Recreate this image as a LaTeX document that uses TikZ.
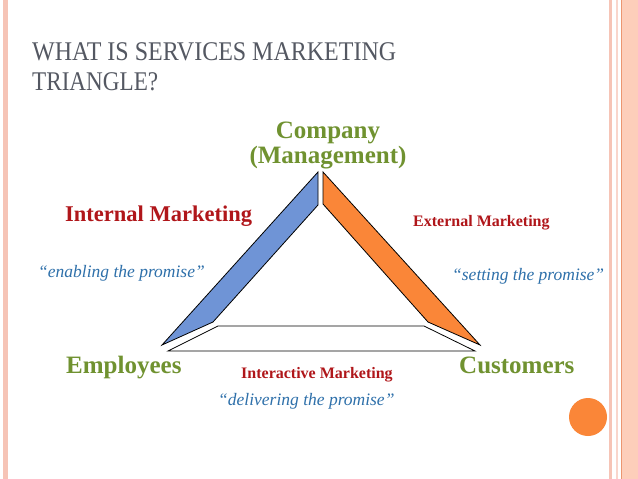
\documentclass[tikz,border=0pt]{standalone}
\usepackage{fontspec}
\setmainfont{Liberation Serif}
\definecolor{olivegreen}{RGB}{112,146,48}
\definecolor{darkred}{RGB}{176,22,26}
\definecolor{promblue}{RGB}{46,112,170}
\definecolor{bandblue}{RGB}{111,148,214}
\definecolor{bandorange}{RGB}{250,134,56}
\definecolor{titlegray}{RGB}{84,88,98}
\definecolor{stripepink}{RGB}{246,196,182}
\definecolor{stripepeach}{RGB}{253,206,186}
\definecolor{stripeline}{RGB}{236,150,112}
\begin{document}
\begin{tikzpicture}[x=1pt,y=-1pt,
  party/.style={text=olivegreen,font=\fontsize{25}{26}\selectfont\bfseries,inner sep=0pt},
  bigmkt/.style={text=darkred,font=\fontsize{22.5}{24}\selectfont\bfseries,inner sep=0pt},
  smallmkt/.style={text=darkred,font=\fontsize{16}{18}\selectfont\bfseries,inner sep=0pt},
  promise/.style={text=promblue,font=\fontsize{17.5}{19}\selectfont\itshape,inner sep=0pt},
  band/.style={draw=black,line width=0.8pt,line join=miter}]
\useasboundingbox (0,0) rectangle (638,479);
\fill[white] (0,0) rectangle (638,479);
% border stripes
\fill[stripepink] (3,0) rectangle (7.5,479);
\fill[stripepink] (608.5,0) rectangle (612,479);
\fill[stripepink!70] (616,0) rectangle (617.5,479);
\fill[stripepeach] (621,0) rectangle (638,479);
\draw[stripeline,line width=0.8pt] (621.5,0) -- (621.5,479);
% title
\node[anchor=base west,inner sep=0pt,text=titlegray,font=\fontsize{27}{30}\selectfont] (t1) at (32,60) {\resizebox{364pt}{\height}{WHAT IS SERVICES MARKETING}};
\node[anchor=base west,inner sep=0pt,text=titlegray,font=\fontsize{27}{30}\selectfont] (t2) at (32,90) {\resizebox{126pt}{\height}{TRIANGLE?}};
% bands
\fill[band,fill=bandblue] (318,172) -- (318,205) -- (213,322) -- (162,345) -- cycle;
\fill[band,fill=bandorange] (323,172) -- (480,345) -- (428,322) -- (323,204) -- cycle;
\fill[band,fill=white] (218,326) -- (424,326) -- (475,351) -- (168,351) -- cycle;
% labels
\node[party,anchor=base] (comp) at (328,138) {Company};
\node[party,anchor=base] (mgmt) at (328,163) {(Management)};
\node[party,anchor=base west] (emp) at (66,373) {Employees};
\node[party,anchor=base west] (cust) at (459,373) {Customers};
\node[bigmkt,anchor=base west] (im) at (65,221) {Internal Marketing};
\node[smallmkt,anchor=base west] (em) at (413,226) {External Marketing};
\node[smallmkt,anchor=base west] (inm) at (241,378) {Interactive Marketing};
\node[promise,anchor=base west] (p1) at (38,277) {``enabling the promise''};
\node[promise,anchor=base west] (p2) at (452,280) {``setting the promise''};
\node[promise,anchor=base west] (p3) at (218,405) {``delivering the promise''};
% bullet
\fill[bandorange] (588,417) circle (19);
\end{tikzpicture}
\end{document}
